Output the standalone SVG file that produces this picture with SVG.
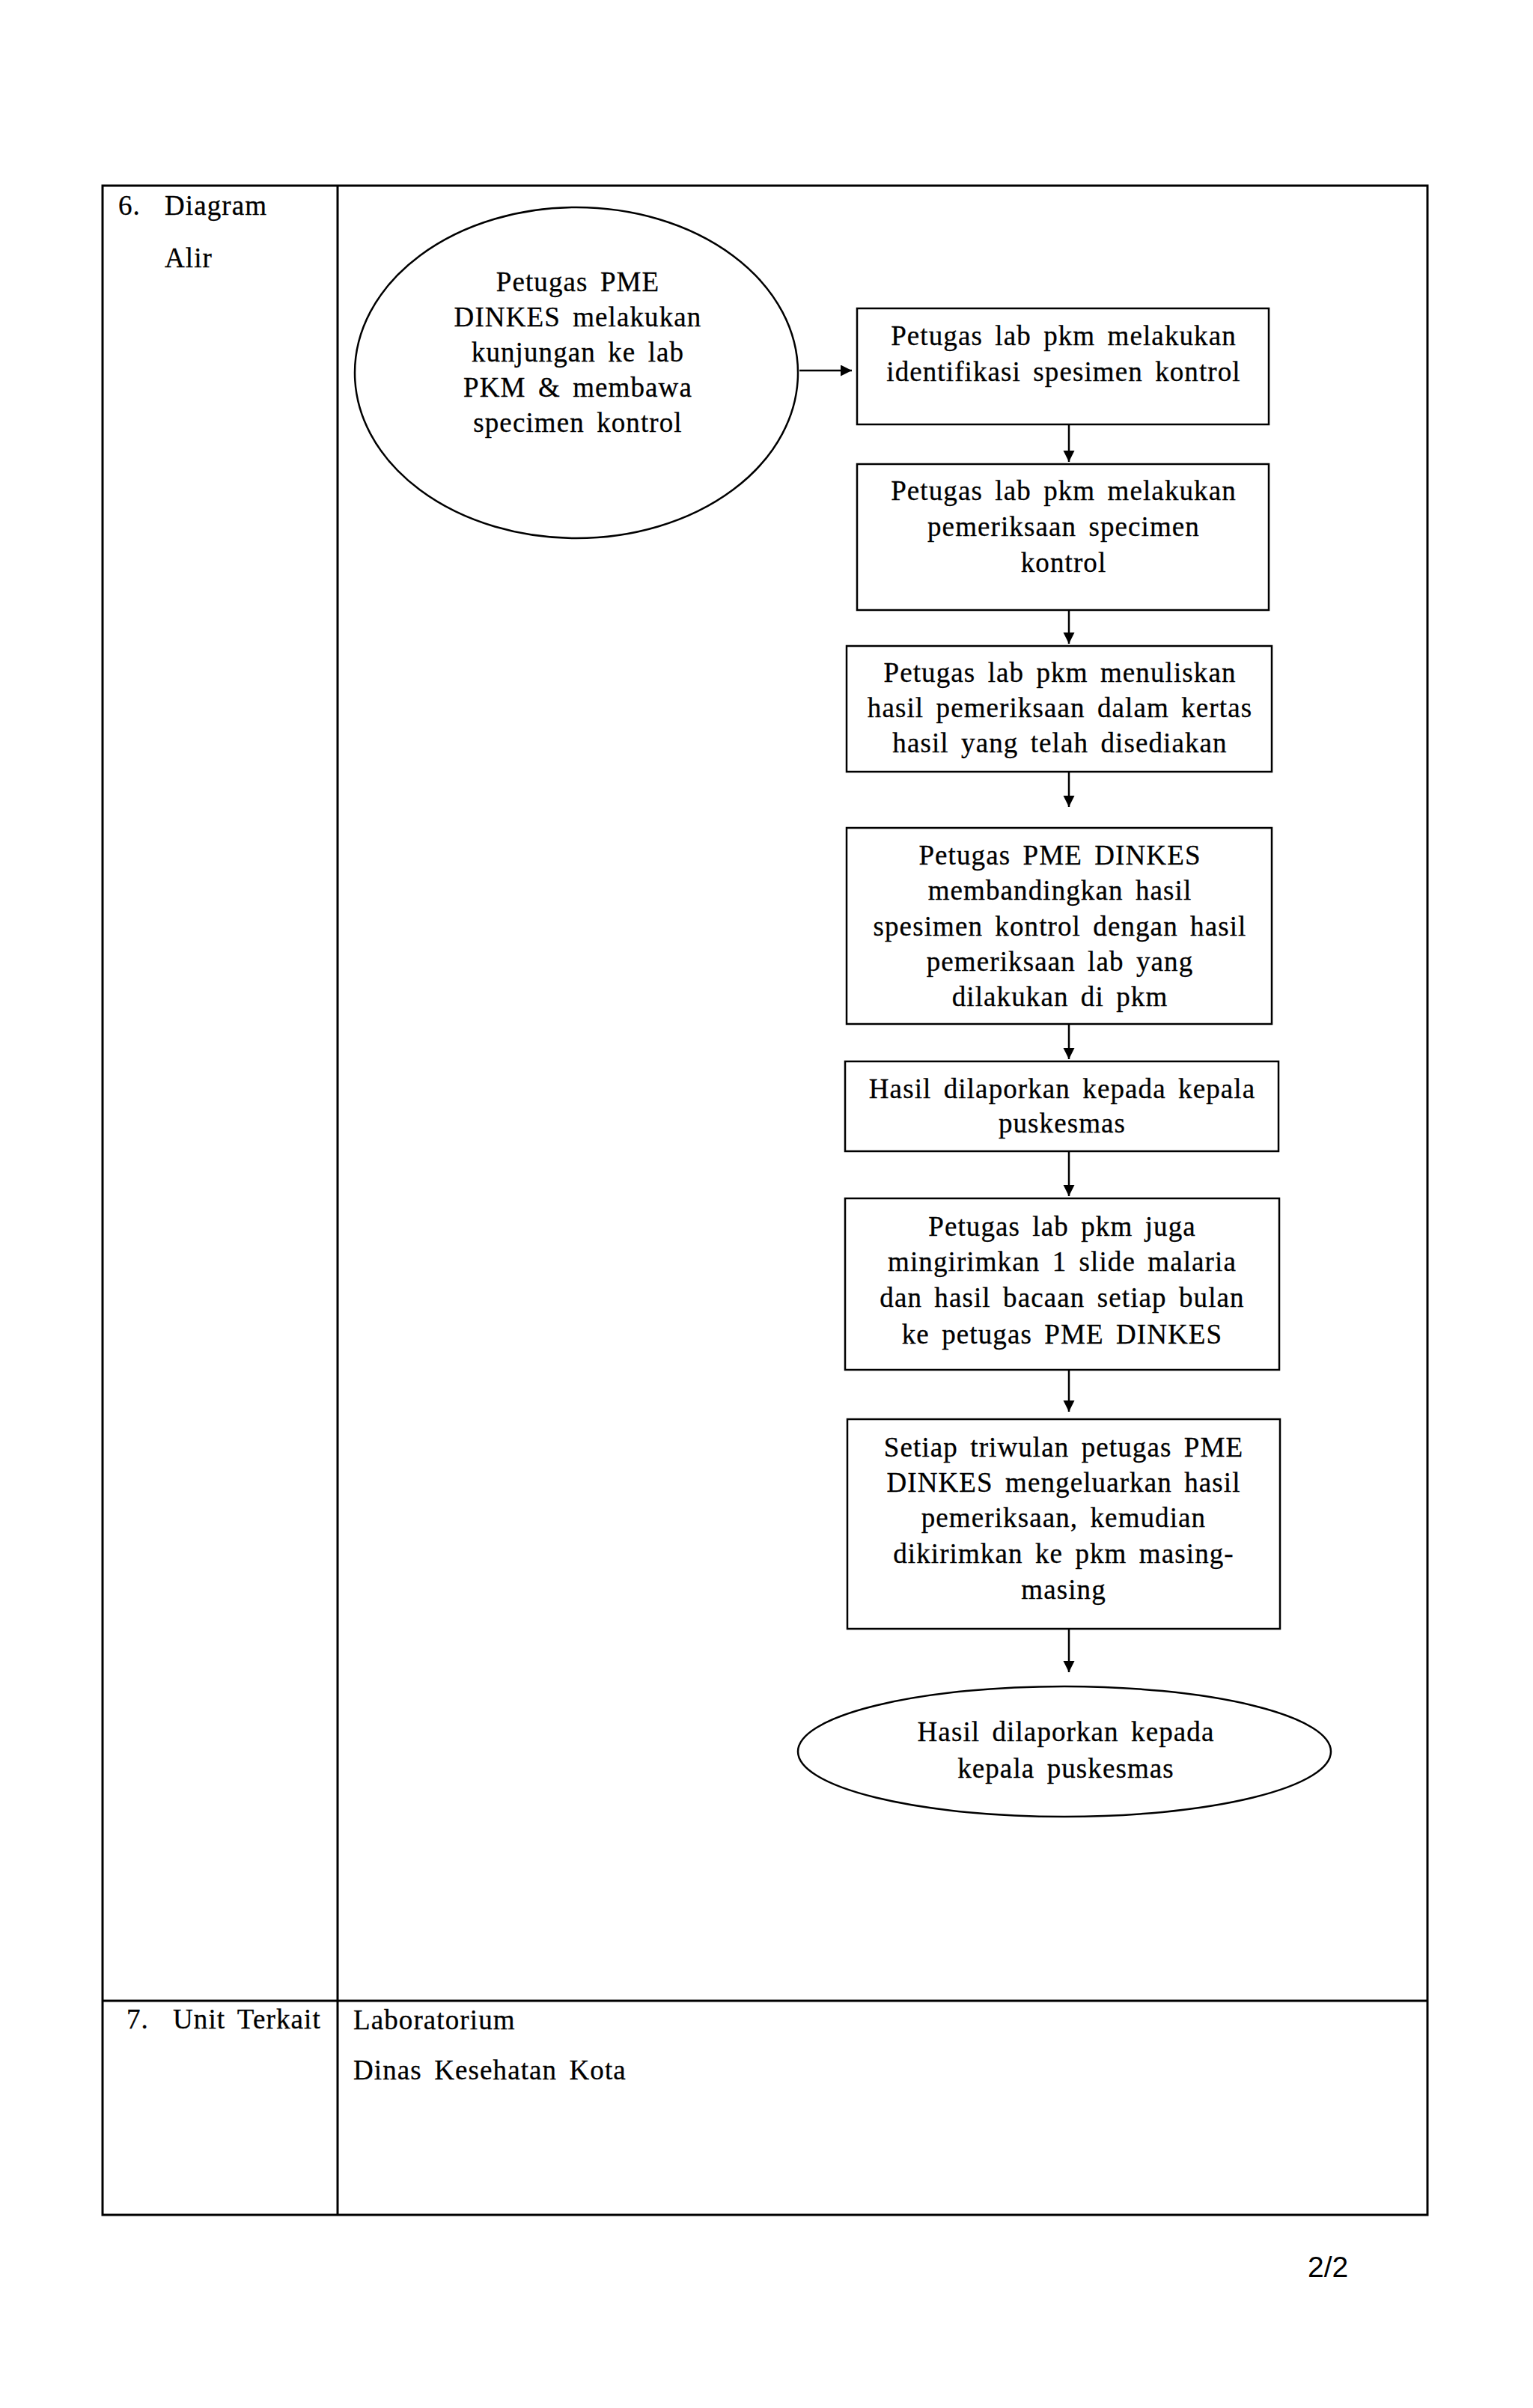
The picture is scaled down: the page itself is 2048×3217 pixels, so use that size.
<svg xmlns="http://www.w3.org/2000/svg" width="2048" height="3217" viewBox="0 0 2048 3217">
<style>
.t{font-family:"Liberation Serif","Times New Roman",serif;font-size:37px;letter-spacing:1.1px;word-spacing:6px;fill:#000;stroke:#000;stroke-width:0.3}
.c{text-anchor:middle}
.frame{fill:none;stroke:#000;stroke-width:3}
.node{fill:#fff;stroke:#000;stroke-width:2.5}
.conn{stroke:#000;stroke-width:2.5;fill:none}
.pg{font-family:"Liberation Sans",Arial,sans-serif;font-size:39px;fill:#000}
</style>
<defs>
<marker id="ah" markerUnits="userSpaceOnUse" markerWidth="16" markerHeight="16" refX="15" refY="7.5" orient="auto">
<path d="M0,0 L15,7.5 L0,15 z" fill="#000"/>
</marker>
</defs>
<rect width="2048" height="3217" fill="#fff"/>
<g id="table">
<rect class="frame" x="137" y="248" width="1770" height="2711"/>
<line class="frame" x1="451" y1="248" x2="451" y2="2959"/>
<line class="frame" x1="137" y1="2673" x2="1907" y2="2673"/>
<text class="t" x="158" y="287">6.</text>
<text class="t" x="220" y="287">Diagram</text>
<text class="t" x="220" y="357">Alir</text>
<text class="t" x="169" y="2710">7.</text>
<text class="t" x="231" y="2710">Unit Terkait</text>
<text class="t" x="472" y="2711">Laboratorium</text>
<text class="t" x="472" y="2778">Dinas Kesehatan Kota</text>
</g>
<g id="connectors">
<line class="conn" x1="1068" y1="495" x2="1138" y2="495" marker-end="url(#ah)"/>
<line class="conn" x1="1428" y1="567" x2="1428" y2="617" marker-end="url(#ah)"/>
<line class="conn" x1="1428" y1="815" x2="1428" y2="860" marker-end="url(#ah)"/>
<line class="conn" x1="1428" y1="1031" x2="1428" y2="1078" marker-end="url(#ah)"/>
<line class="conn" x1="1428" y1="1368" x2="1428" y2="1415" marker-end="url(#ah)"/>
<line class="conn" x1="1428" y1="1538" x2="1428" y2="1598" marker-end="url(#ah)"/>
<line class="conn" x1="1428" y1="1830" x2="1428" y2="1886" marker-end="url(#ah)"/>
<line class="conn" x1="1428" y1="2176" x2="1428" y2="2234" marker-end="url(#ah)"/>
</g>
<g id="start">
<ellipse class="node" cx="770" cy="498" rx="296" ry="221"/>
<text class="t c" x="772" y="389">Petugas  PME</text>
<text class="t c" x="772" y="436">DINKES melakukan</text>
<text class="t c" x="772" y="483">kunjungan  ke lab</text>
<text class="t c" x="772" y="530">PKM &amp; membawa</text>
<text class="t c" x="772" y="577">specimen  kontrol</text>
</g>
<g id="step1">
<rect class="node" x="1145" y="412" width="550" height="155"/>
<text class="t c" x="1421" y="461">Petugas  lab pkm melakukan</text>
<text class="t c" x="1421" y="509">identifikasi  spesimen  kontrol</text>
</g>
<g id="step2">
<rect class="node" x="1145" y="620" width="550" height="195"/>
<text class="t c" x="1421" y="668">Petugas  lab pkm melakukan</text>
<text class="t c" x="1421" y="716">pemeriksaan  specimen</text>
<text class="t c" x="1421" y="764">kontrol</text>
</g>
<g id="step3">
<rect class="node" x="1131" y="863" width="568" height="168"/>
<text class="t c" x="1416" y="911">Petugas  lab pkm menuliskan</text>
<text class="t c" x="1416" y="958">hasil  pemeriksaan  dalam kertas</text>
<text class="t c" x="1416" y="1005">hasil  yang  telah  disediakan</text>
</g>
<g id="step4">
<rect class="node" x="1131" y="1106" width="568" height="262"/>
<text class="t c" x="1416" y="1155">Petugas  PME DINKES</text>
<text class="t c" x="1416" y="1202">membandingkan  hasil</text>
<text class="t c" x="1416" y="1250">spesimen  kontrol dengan hasil</text>
<text class="t c" x="1416" y="1297">pemeriksaan  lab yang</text>
<text class="t c" x="1416" y="1344">dilakukan  di pkm</text>
</g>
<g id="step5">
<rect class="node" x="1129" y="1418" width="579" height="120"/>
<text class="t c" x="1419" y="1467">Hasil  dilaporkan  kepada kepala</text>
<text class="t c" x="1419" y="1513">puskesmas</text>
</g>
<g id="step6">
<rect class="node" x="1129" y="1601" width="580" height="229"/>
<text class="t c" x="1419" y="1651">Petugas  lab pkm juga</text>
<text class="t c" x="1419" y="1698">mingirimkan  1 slide  malaria</text>
<text class="t c" x="1419" y="1746">dan hasil  bacaan setiap  bulan</text>
<text class="t c" x="1419" y="1795">ke petugas  PME DINKES</text>
</g>
<g id="step7">
<rect class="node" x="1132" y="1896" width="578" height="280"/>
<text class="t c" x="1421" y="1946">Setiap  triwulan  petugas  PME</text>
<text class="t c" x="1421" y="1993">DINKES mengeluarkan  hasil</text>
<text class="t c" x="1421" y="2040">pemeriksaan,  kemudian</text>
<text class="t c" x="1421" y="2088">dikirimkan  ke pkm masing-</text>
<text class="t c" x="1421" y="2136">masing</text>
</g>
<g id="end">
<ellipse class="node" cx="1422" cy="2340" rx="356" ry="87"/>
<text class="t c" x="1424" y="2326">Hasil  dilaporkan  kepada</text>
<text class="t c" x="1424" y="2375">kepala  puskesmas</text>
</g>
<text class="pg" x="1747" y="3042">2/2</text>
</svg>
